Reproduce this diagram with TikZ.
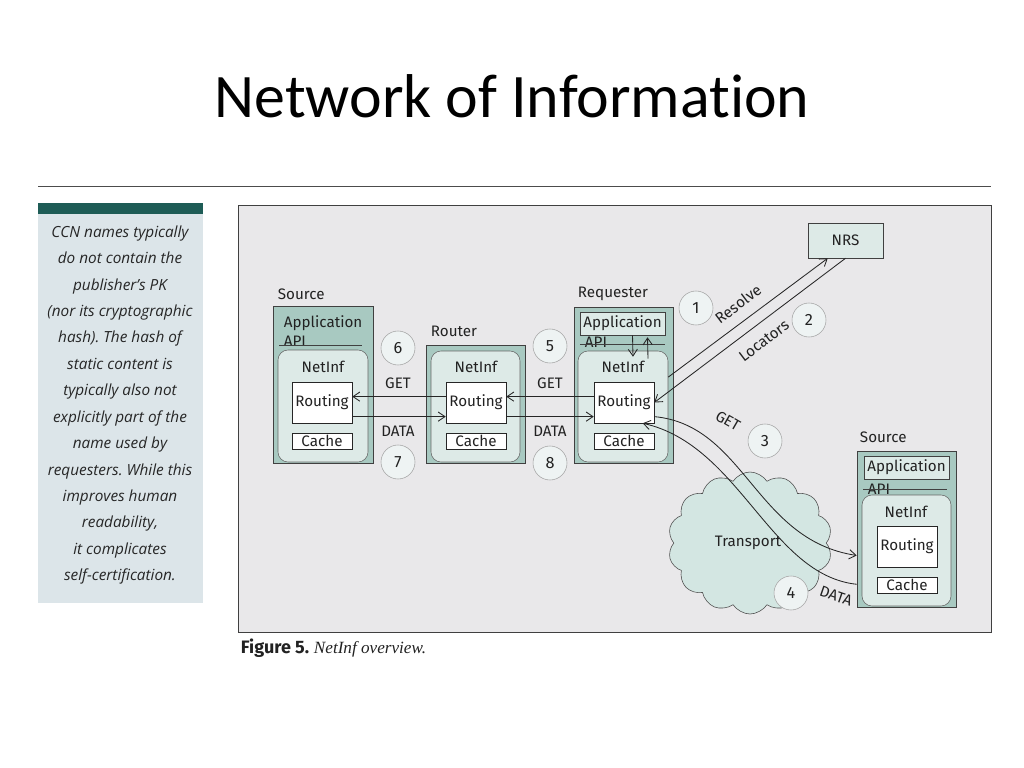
\documentclass[tikz,border=0pt]{standalone}
\usepackage{fontspec}
\setmainfont{Fira Sans}
\newfontfamily\sidefamily{Open Sans}
\newfontfamily\titlefont[Ligatures=NoCommon]{Carlito}
\newfontfamily\capserif{Liberation Serif}
\usetikzlibrary{arrows.meta,shapes.symbols,calc}
\frenchspacing

\definecolor{hostteal}{HTML}{A8C9C1}
\definecolor{innerteal}{HTML}{DDEAE7}
\definecolor{figgray}{HTML}{E9E8EA}
\definecolor{circfill}{HTML}{EEF3F3}
\definecolor{cloudfill}{HTML}{D3E6E2}
\definecolor{sidefill}{HTML}{DCE5E9}
\definecolor{sidebar}{HTML}{1E5C56}
\definecolor{inkgray}{HTML}{222222}

\newcommand{\unitpx}{0.025cm}
\newcommand{\diagfont}{\fontsize{10.8}{12}\selectfont}
\newcommand{\sidefont}{\sidefamily\fontsize{10.9}{18.8}\selectfont\itshape}

\tikzset{
  host/.style 2 args={draw=black!75, fill=hostteal, inner sep=0pt,
    minimum width=#1*\unitpx, minimum height=#2*\unitpx},
  netbox/.style 2 args={draw=black!60, fill=innerteal, rounded corners=0.25cm,
    inner sep=0pt, minimum width=#1*\unitpx, minimum height=#2*\unitpx},
  whitebox/.style 2 args={draw=black!85, fill=white, inner sep=0pt,
    minimum width=#1*\unitpx, minimum height=#2*\unitpx},
  appbox/.style={draw=black!75, fill=innerteal, inner sep=0pt,
    minimum width=85*\unitpx, minimum height=23*\unitpx},
  num/.style={circle, draw=black!35, fill=circfill, inner sep=0pt,
    minimum size=34*\unitpx, font=\fontsize{11.6}{12}\selectfont},
  arr/.style={draw=black!85, line width=0.6pt,
    -{Straight Barb[length=1.7mm,width=2.3mm]}},
  apiline/.style={draw=black!75, line width=0.6pt},
}

\begin{document}
\begin{tikzpicture}[x=\unitpx, y=-\unitpx, font=\diagfont, text=inkgray]

\useasboundingbox (0,0) rectangle (1024,768);
\fill[white] (0,0) rectangle (1024,768);

% Title and rule
\node[anchor=base, text=black, font=\titlefont\fontsize{44}{50}\selectfont] (title) at (512,118) {Network of Information};
\draw[black!70, line width=0.7pt] (38,186) -- (991,186);

% Side note
\fill[sidebar] (38,203) rectangle (203,214);
\fill[sidefill] (38,214) rectangle (203,603);
\node[align=center, font=\sidefont, text=black!85] (note) at (120,405) {CCN names typically\\do not contain the\\publisher’s PK\\(nor its cryptographic\\hash). The hash of\\static content is\\typically also not\\explicitly part of the\\name used by\\requesters. While this\\improves human\\readability,\\it complicates\\self-certification.};

% Figure frame and caption
\draw[fill=figgray, draw=black!75, line width=0.7pt] (238,205) rectangle (991,632);
\node[anchor=base west, font=\fontsize{12.8}{14}\selectfont] (caption) at (236,653) {\textbf{Figure 5.} {\capserif\itshape\fontsize{12.2}{14}\selectfont NetInf overview.}};

% NRS
\node[draw=black!75, fill=innerteal, inner sep=0pt, minimum width=75*\unitpx, minimum height=35*\unitpx] (nrs) at (845.5,240.5) {NRS};

% Source (left)
\node[anchor=west] (srcLbl) at (273,294) {Source};
\node[host={100}{157}] (srcHost) at (323,384.5) {};
\node[anchor=west] (srcApp) at (279,323) {Application};
\node[anchor=west] (srcApi) at (279,341) {API};
\coordinate (srcApiEnd) at (362,345);
\draw[apiline] (srcApi.west |- srcApiEnd) -- (srcApiEnd);
\node[netbox={90}{112}] (srcNet) at (323,406) {};
\node (srcNetLbl) at (323,367) {NetInf};
\node[whitebox={60}{41}] (srcRouting) at (322,402.5) {Routing};
\node[whitebox={60}{16}] (srcCache) at (322,441) {Cache};

% Router
\node[anchor=west] (rtLbl) at (426,331) {Router};
\node[host={99}{118}] (rtHost) at (475.5,404) {};
\node[netbox={89}{111}] (rtNet) at (475.5,406.5) {};
\node (rtNetLbl) at (476,367) {NetInf};
\node[whitebox={60}{41}] (rtRouting) at (476,402.5) {Routing};
\node[whitebox={60}{16}] (rtCache) at (476,441) {Cache};

% Requester
\node[anchor=west] (rqLbl) at (573,294) {Requester};
\node[host={99}{156}] (rqHost) at (623.5,385) {};
\node[appbox] (rqApp) at (622.5,323.5) {Application};
\node[anchor=west] (rqApi) at (580,342) {API};
\coordinate (rqApiEnd) at (665,344);
\draw[apiline] (rqApi.west |- rqApiEnd) -- (rqApiEnd);
\node[netbox={90}{111}] (rqNet) at (623,406.5) {};
\node (rqNetLbl) at (623,367) {NetInf};
\node[whitebox={60}{41}] (rqRouting) at (624,402.5) {Routing};
\node[whitebox={60}{16}] (rqCache) at (624,441) {Cache};
\draw[arr] ($(rqApp.south)+(10,0)$) -- ($(rqNet.north)+(10,6)$);
\draw[arr] ($(rqNet.north)+(25,8)$) -- ($(rqApp.south)+(25,2)$);

% Source (right)
\node[anchor=west] (srcbLbl) at (855,437) {Source};
\node[host={99}{156}] (srcbHost) at (906.5,529) {};
\node[appbox] (srcbApp) at (906.5,467.5) {Application};
\node[anchor=west] (srcbApi) at (863,489) {API};
\coordinate (srcbApiEnd) at (947,489);
\draw[apiline] (srcbApi.west |- srcbApiEnd) -- (srcbApiEnd);
\node[netbox={89}{111}] (srcbNet) at (906.5,550.5) {};
\node (srcbNetLbl) at (906,512) {NetInf};
\node[whitebox={60}{41}] (srcbRouting) at (907,546.5) {Routing};
\node[whitebox={60}{16}] (srcbCache) at (907,585) {Cache};

% Transport cloud
\node[cloud, cloud puffs=14, cloud puff arc=115, aspect=1.16, draw=black!70, fill=cloudfill,
  inner sep=0pt, minimum width=164*\unitpx, minimum height=142*\unitpx] (cloud) at (750,543) {};
\node (cloudLbl) at (748,543) {Transport};

% GET and DATA between hosts
\draw[arr] (rqRouting.169) -- (rtRouting.11);
\draw[arr] (rtRouting.169) -- (srcRouting.11);
\draw[arr] (srcRouting.-25) -- (rtRouting.205);
\draw[arr] (rtRouting.-25) -- (rqRouting.205);
\node (get6) at (398,383) {GET};
\node (data7) at (398,431) {DATA};
\node (get5) at (550,383) {GET};
\node (data8) at (550,431) {DATA};
\node[num] (n6) at (398,348) {6};
\node[num] (n7) at (398,462) {7};
\node[num] (n5) at (550,346) {5};
\node[num] (n8) at (550,463) {8};

% Name resolution
\draw[arr] (rqNet.33) -- (nrs.-135);
\draw[arr] (nrs.south) -- (rqRouting.east);
\node[rotate=37] (resolveLbl) at (738,304) {Resolve};
\node[rotate=37] (locatorsLbl) at (764,341) {Locators};
\node[num] (n1) at (696,308) {1};
\node[num] (n2) at (809,320) {2};

% Transport GET and DATA
\draw[arr] (rqRouting.-25) .. controls (745,425) and (755,540) .. (srcbHost.208);
\draw[arr] (srcbHost.228) .. controls (770,575) and (740,445) .. (rqRouting.-48);
\node[rotate=-30] (getLbl) at (728,421) {GET};
\node[num] (n3) at (765,441) {3};
\node[rotate=-19] (dataLbl) at (836,596) {DATA};
\node[num] (n4) at (791,593) {4};

\end{tikzpicture}
\end{document}
